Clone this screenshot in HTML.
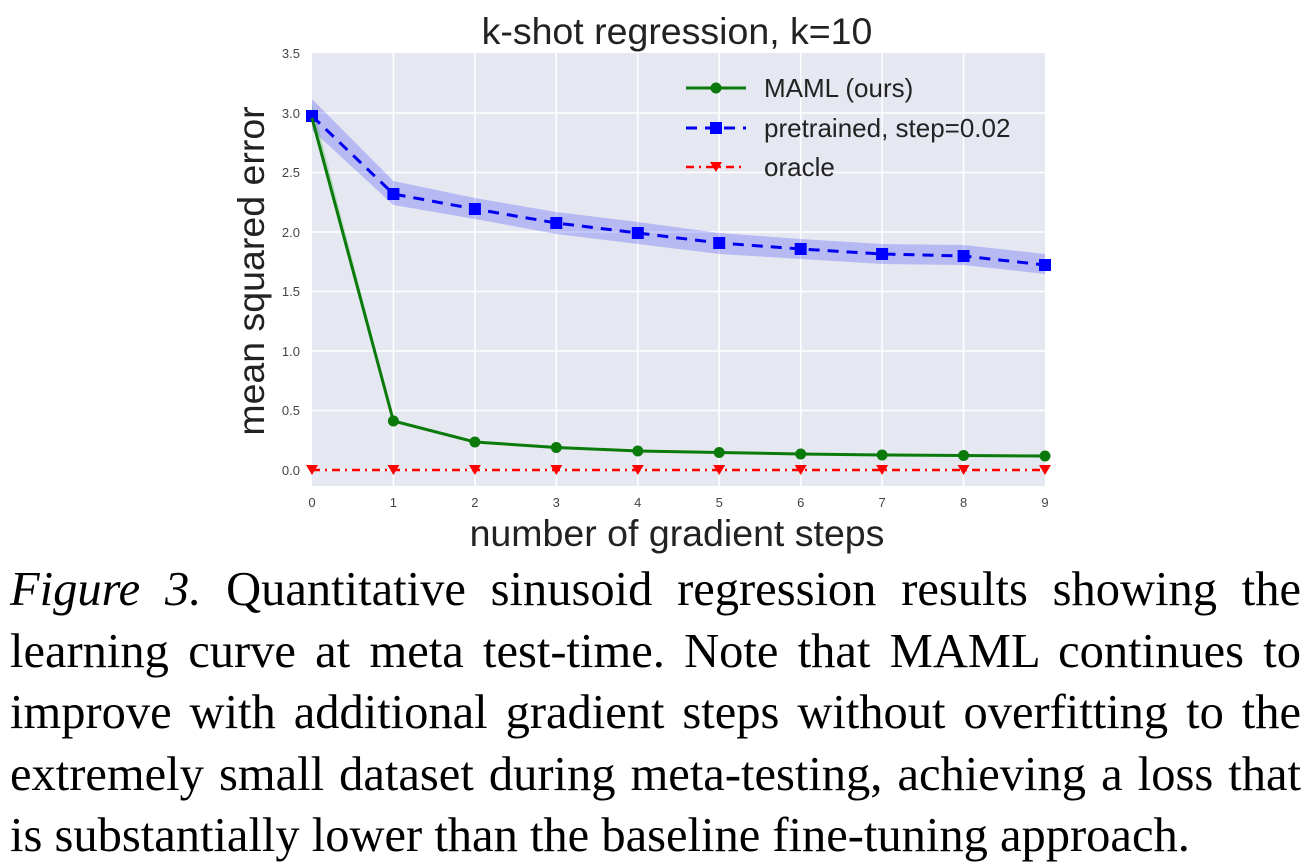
<!DOCTYPE html>
<html><head><meta charset="utf-8"><style>
body{margin:0;background:#fff;width:1311px;height:867px;overflow:hidden;position:relative}
.cap{position:absolute;left:10px;top:559px;width:1291px;font-family:"Liberation Serif",serif;font-size:48.5px;line-height:61.5px;color:#000}
.cap div{text-align:justify;text-align-last:justify;white-space:nowrap;height:61.5px}
.cap div.l{text-align-last:left}
</style></head><body>
<svg width="1311" height="560" style="position:absolute;left:0;top:0" font-family="Liberation Sans, sans-serif">
<rect x="312" y="53" width="733" height="433" fill="#e5e8f1"/>
<g stroke="#fff" stroke-width="1.5">
<line x1="312" x2="1045" y1="113" y2="113"/><line x1="312" x2="1045" y1="172.5" y2="172.5"/><line x1="312" x2="1045" y1="232" y2="232"/><line x1="312" x2="1045" y1="291.5" y2="291.5"/><line x1="312" x2="1045" y1="351" y2="351"/><line x1="312" x2="1045" y1="410.5" y2="410.5"/><line x1="312" x2="1045" y1="470" y2="470"/>
<line y1="53" y2="486" x1="393.4" x2="393.4"/><line y1="53" y2="486" x1="474.9" x2="474.9"/><line y1="53" y2="486" x1="556.3" x2="556.3"/><line y1="53" y2="486" x1="637.8" x2="637.8"/><line y1="53" y2="486" x1="719.2" x2="719.2"/><line y1="53" y2="486" x1="800.7" x2="800.7"/><line y1="53" y2="486" x1="882.1" x2="882.1"/><line y1="53" y2="486" x1="963.6" x2="963.6"/>
</g>
<g fill="#444" font-size="13" text-anchor="end">
<text x="300" y="58">3.5</text><text x="300" y="118">3.0</text><text x="300" y="177">2.5</text><text x="300" y="237">2.0</text><text x="300" y="296">1.5</text><text x="300" y="356">1.0</text><text x="300" y="415">0.5</text><text x="300" y="475">0.0</text>
</g>
<g fill="#444" font-size="13" text-anchor="middle">
<text x="312" y="507">0</text><text x="393.4" y="507">1</text><text x="474.9" y="507">2</text><text x="556.3" y="507">3</text><text x="637.8" y="507">4</text><text x="719.2" y="507">5</text><text x="800.7" y="507">6</text><text x="882.1" y="507">7</text><text x="963.6" y="507">8</text><text x="1045" y="507">9</text>
</g>
<text x="677" y="44" font-size="37.5" fill="#222" text-anchor="middle">k-shot regression, k=10</text>
<text x="677" y="546" font-size="37.5" fill="#222" text-anchor="middle">number of gradient steps</text>
<text transform="translate(264,271) rotate(-90)" font-size="37.5" fill="#222" text-anchor="middle">mean squared error</text>
<polygon fill="#0000ff" fill-opacity="0.2" points="312,99 393.4,181 474.9,198 556.3,212 637.8,222 719.2,233 800.7,239 882.1,244 963.6,245 1045,254 1045,274 963.6,265 882.1,264 800.7,259 719.2,254 637.8,244 556.3,234 474.9,219 393.4,205 312,130"/>
<polygon fill="#00a000" fill-opacity="0.2" points="312,103 393.4,418 393.4,424 312,123"/>
<polyline fill="none" stroke="#0000ee" stroke-width="3" stroke-dasharray="11,8" points="312,116 393.4,194 474.9,209 556.3,223 637.8,233 719.2,243 800.7,249 882.1,254 963.6,256 1045,265"/>
<g fill="#0000ff"><rect x="306" y="110" width="12" height="12"/><rect x="387.4" y="188" width="12" height="12"/><rect x="468.9" y="203" width="12" height="12"/><rect x="550.3" y="217" width="12" height="12"/><rect x="631.8" y="227" width="12" height="12"/><rect x="713.2" y="237" width="12" height="12"/><rect x="794.7" y="243" width="12" height="12"/><rect x="876.1" y="248" width="12" height="12"/><rect x="957.6" y="250" width="12" height="12"/><rect x="1039" y="259" width="12" height="12"/></g>
<polyline fill="none" stroke="#0a7a0a" stroke-width="3" points="312,118 393.4,421 474.9,442 556.3,447.5 637.8,451 719.2,452.5 800.7,454 882.1,455 963.6,455.5 1045,456"/>
<g fill="#0a7a0a"><circle cx="393.4" cy="421" r="5.5"/><circle cx="474.9" cy="442" r="5.5"/><circle cx="556.3" cy="447.5" r="5.5"/><circle cx="637.8" cy="451" r="5.5"/><circle cx="719.2" cy="452.5" r="5.5"/><circle cx="800.7" cy="454" r="5.5"/><circle cx="882.1" cy="455" r="5.5"/><circle cx="963.6" cy="455.5" r="5.5"/><circle cx="1045" cy="456" r="5.5"/></g>
<line x1="312" x2="1045" y1="470" y2="470" stroke="#ff0000" stroke-width="2.5" stroke-dasharray="8,5,2,5"/>
<g fill="#ff0000"><path d="M306,465h12l-6,10z"/><path d="M387.4,465h12l-6,10z"/><path d="M468.9,465h12l-6,10z"/><path d="M550.3,465h12l-6,10z"/><path d="M631.8,465h12l-6,10z"/><path d="M713.2,465h12l-6,10z"/><path d="M794.7,465h12l-6,10z"/><path d="M876.1,465h12l-6,10z"/><path d="M957.6,465h12l-6,10z"/><path d="M1039,465h12l-6,10z"/></g>
<line x1="686" x2="746" y1="88" y2="88" stroke="#0a7a0a" stroke-width="3"/><circle cx="716" cy="88" r="5.5" fill="#0a7a0a"/>
<line x1="686" x2="746" y1="128" y2="128" stroke="#0000ee" stroke-width="3" stroke-dasharray="11,8"/><rect x="710" y="122" width="12" height="12" fill="#0000ff"/>
<line x1="686" x2="746" y1="167" y2="167" stroke="#ff0000" stroke-width="2.5" stroke-dasharray="8,5,2,5"/><path d="M710,162h12l-6,10z" fill="#ff0000"/>
<g font-size="26" fill="#222"><text x="764" y="97">MAML (ours)</text><text x="764" y="137">pretrained, step=0.02</text><text x="764" y="176">oracle</text></g>
</svg>
<div class="cap">
<div><i>Figure 3.</i> Quantitative sinusoid regression results showing the</div>
<div>learning curve at meta test-time. Note that MAML continues to</div>
<div>improve with additional gradient steps without overfitting to the</div>
<div>extremely small dataset during meta-testing, achieving a loss that</div>
<div class="l">is substantially lower than the baseline fine-tuning approach.</div>
</div>
</body></html>
